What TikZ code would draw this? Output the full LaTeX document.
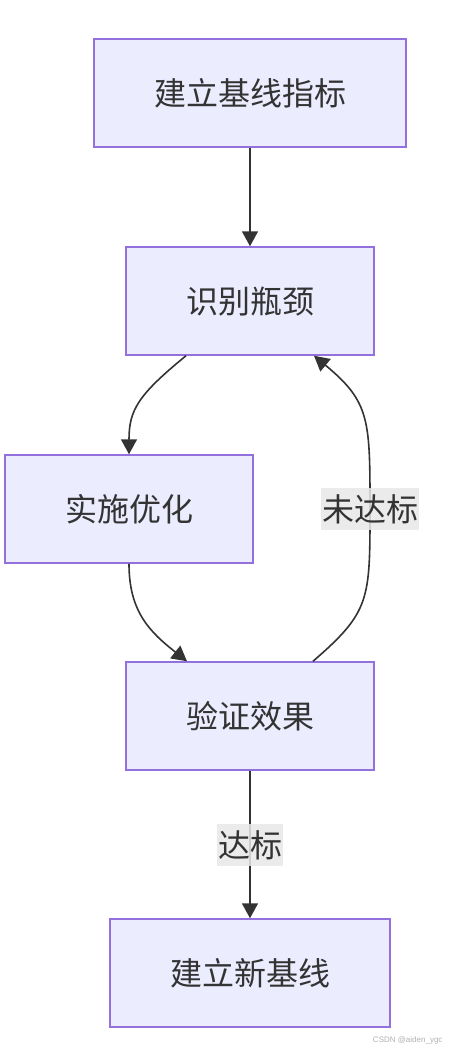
\documentclass[tikz,border=0pt]{standalone}
\usepackage{fontspec}
\newfontfamily\cjk{Noto Sans CJK SC}
\newfontfamily\wmfont{Liberation Sans}
\usetikzlibrary{arrows.meta,calc}
\definecolor{boxfill}{HTML}{ECECFF}
\definecolor{boxline}{HTML}{9370DB}
\definecolor{txt}{HTML}{333333}
\tikzset{
  stepbox/.style={rectangle,draw=boxline,fill=boxfill,line width=1.5pt,minimum height=108pt,inner sep=0pt,text=txt,font=\cjk\fontsize{32}{38}\selectfont},
  flow/.style={draw=txt,line width=1.6pt,-{Triangle[length=15pt,width=16pt]}},
  edgelabel/.style={fill=black!9,fill opacity=0.85,text opacity=1,text=txt,inner xsep=1pt,inner ysep=6pt,font=\cjk\fontsize{32}{38}\selectfont}
}

\begin{document}
\begin{tikzpicture}[x=1pt,y=-1pt]
  \useasboundingbox[fill=white] (0,0) rectangle (450,1052);

  % steps
  \node[stepbox,minimum width=312pt] (base) at (250,93) {建立基线指标};
  \node[stepbox,minimum width=248pt] (idn) at (250,301) {识别瓶颈};
  \node[stepbox,minimum width=248pt] (impl) at (129,509) {实施优化};
  \node[stepbox,minimum width=248pt] (ver) at (250,716) {验证效果};
  \node[stepbox,minimum width=280pt] (newbase) at (250,973) {建立新基线};

  % connectors
  \draw[flow] (base) -- (idn);
  \draw[flow] ([xshift=-64pt]idn.south) .. controls (138,395) and (129,410) .. (impl.north);
  \draw[flow] (impl.south) .. controls (129,612) and (150,632) .. ([xshift=-63pt]ver.north);
  \coordinate (bend) at (370,509);
  \draw[flow] ([xshift=63pt]ver.north) .. controls (370,612) and (370,600) .. (bend)
              .. controls (370,420) and (370,402) .. ([xshift=64pt]idn.south);
  \draw[flow] (ver) -- (newbase);

  % labels
  \node[edgelabel] (failtag) at (bend) {未达标};
  \node[edgelabel] (passtag) at (250,845) {达标};

  \node[text=black!30,font=\wmfont\fontsize{8}{9}\selectfont,anchor=east] (mark) at (446,1040) {CSDN @aiden\_ygc};
\end{tikzpicture}
\end{document}
